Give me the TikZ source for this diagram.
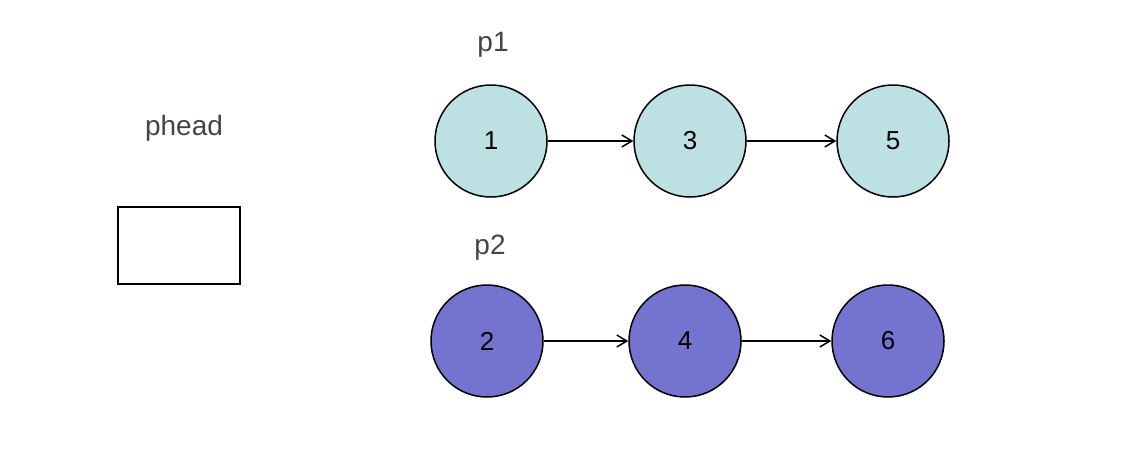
\documentclass[tikz,border=0pt]{standalone}
\usepackage{fontspec}
\setmainfont{Liberation Sans}
\usetikzlibrary{arrows.meta}
\definecolor{teal1}{HTML}{BDE0E3}
\definecolor{purp}{HTML}{7474D0}
\definecolor{lab}{HTML}{444444}
\begin{document}
\begin{tikzpicture}[x=1pt,y=-1pt,
  nd/.style={circle,draw=black,line width=1.5pt,minimum size=112pt,inner sep=0pt,font=\fontsize{26}{30}\selectfont},
  lb/.style={text=lab,font=\fontsize{28}{32}\selectfont},
  ar/.style={-{Straight Barb[length=10pt,width=12pt]},line width=1.5pt}]
\useasboundingbox (0,0) rectangle (1134,450);
\node[nd,fill=teal1] (n1) at (491,141) {1};
\node[nd,fill=teal1] (n3) at (690,141) {3};
\node[nd,fill=teal1] (n5) at (893,141) {5};
\node[nd,fill=purp] (n2) at (487,341) {2};
\node[nd,fill=purp] (n4) at (685,341) {4};
\node[nd,fill=purp] (n6) at (888,341) {6};
\draw[ar] (n1) -- (n3); \draw[ar] (n3) -- (n5);
\draw[ar] (n2) -- (n4); \draw[ar] (n4) -- (n6);
\node[lb] (p1) at (493,45) {p1};
\node[lb] (p2) at (490,248) {p2};
\node[lb] (ph) at (184,128) {phead};
\node[draw=black,line width=1.5pt,minimum width=122pt,minimum height=77pt] (box) at (179,245.5) {};
\end{tikzpicture}
\end{document}
